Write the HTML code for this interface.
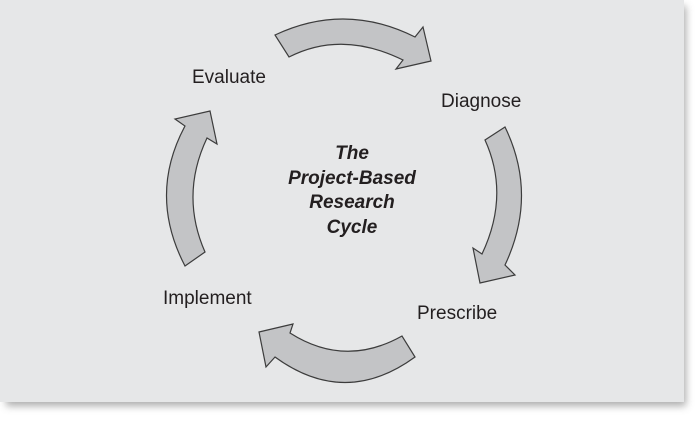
<!DOCTYPE html>
<html><head><style>
body{margin:0;width:700px;height:418px;background:#fff;overflow:hidden}
</style></head><body>
<svg width="700" height="418" viewBox="0 0 700 418" xmlns="http://www.w3.org/2000/svg">
<defs><filter id="s" x="-5%" y="-5%" width="115%" height="115%"><feGaussianBlur stdDeviation="4"/></filter></defs>
<rect x="6" y="6" width="680" height="400" fill="#999" filter="url(#s)" opacity="0.8"/>
<rect x="0" y="0" width="684" height="402" fill="#e6e7e8"/>
<g fill="#c3c4c6" stroke="#3c3c3c" stroke-width="1.2" stroke-linejoin="miter">
<path d="M275,35 Q345,2 415,37 L423,27 L431,61 L396,69 L403,60 Q342,30 289,57 Z"/>
<path d="M505,127 Q538,195 505,265 L515,275 L480,283 L473,248 L482,254 Q510,195 485,140 Z"/>
<path d="M415,357 Q345,408 275,357 L266,367 L259,332 L293,324 L290,333 Q345,368 402,336 Z"/>
<path d="M185,266 Q148,195 185,126 L175,119 L210,111 L217,144 L207,138 Q180,195 205,252 Z"/>
</g>
<g font-family="Liberation Sans, sans-serif" font-size="19" fill="#231f20">
<text x="192" y="83">Evaluate</text>
<text x="441" y="107">Diagnose</text>
<text x="417" y="319">Prescribe</text>
<text x="163" y="304">Implement</text>
</g>
<g font-family="Liberation Sans, sans-serif" font-size="19" font-weight="bold" font-style="italic" fill="#231f20" text-anchor="middle">
<text x="352" y="159">The</text>
<text x="352" y="184">Project-Based</text>
<text x="352" y="208">Research</text>
<text x="352" y="233">Cycle</text>
</g>
</svg>
</body></html>
